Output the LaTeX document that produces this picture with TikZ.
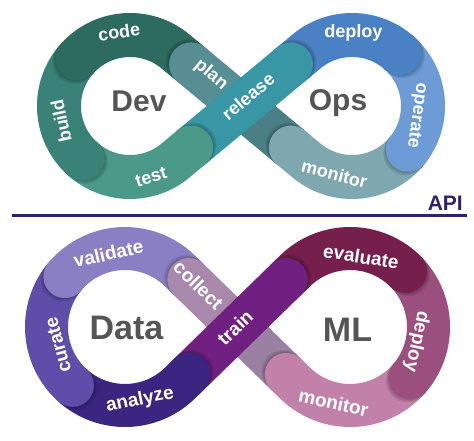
\documentclass[tikz,border=0pt]{standalone}
\usepackage{fontspec}
\setmainfont{Liberation Sans}
\usetikzlibrary{calc}

\definecolor{devplan}{HTML}{578E94}
\definecolor{devplanlow}{HTML}{4A7F86}
\definecolor{devcode}{HTML}{2D6A5F}
\definecolor{devbuild}{HTML}{3A8277}
\definecolor{devtest}{HTML}{4B9A89}
\definecolor{devrelease}{HTML}{3896A5}
\definecolor{opsdeploy}{HTML}{4A80C4}
\definecolor{opsoperate}{HTML}{6D9BD6}
\definecolor{opsmonitor}{HTML}{7FA7B0}
\definecolor{datacollect}{HTML}{A888AB}
\definecolor{datacollectlow}{HTML}{9A80A3}
\definecolor{datavalidate}{HTML}{8B7FC4}
\definecolor{datacurate}{HTML}{5E4EAA}
\definecolor{dataanalyze}{HTML}{3A2681}
\definecolor{mltrain}{HTML}{6F2080}
\definecolor{mlevaluate}{HTML}{751F4D}
\definecolor{mldeploy}{HTML}{9B4F7E}
\definecolor{mlmonitor}{HTML}{C181A8}
\definecolor{hubgrey}{HTML}{555555}
\definecolor{apiblue}{HTML}{2B2370}

% rounded end of a band with a soft shadow in front of it
\newcommand{\bandend}[4]{%
  \foreach \s in {1.5,3,4.5}{\fill[black,opacity=0.08] ($(#1)+(#2:\s)$) circle[radius=#4];}
  \fill[#3] (#1) circle[radius=#4];}

\begin{document}
\begin{tikzpicture}[x=1pt,y=1pt,
			band/.style={line width=44pt},
			mband/.style={line width=43pt},
			lbl/.style={text=white,inner sep=0,font=\bfseries\fontsize{18}{18}\selectfont},
			mlbl/.style={lbl,font=\bfseries\fontsize{19}{19}\selectfont},
			hub/.style={text=hubgrey,inner sep=0,font=\bfseries\fontsize{30}{30}\selectfont},
			mhub/.style={hub,font=\bfseries\fontsize{34}{34}\selectfont}
		]
		\useasboundingbox (0,0) rectangle (474,440);

		% DevOps loop
		\coordinate (DevC) at (130,334);
		\coordinate (OpsC) at (352,334);
		\coordinate (DevX) at (241,334);
		\coordinate (planS)    at ($(DevX)+(-39.8:65)$);
		\coordinate (planE)    at ($(DevX)+(140.2:65)$);
		\coordinate (codeE)    at ($(DevC)+(138:71)$);
		\coordinate (buildE)   at ($(DevC)+(228:71)$);
		\coordinate (testE)    at ($(DevX)+(219.8:65)$);
		\coordinate (releaseE) at ($(DevX)+(39.8:65)$);
		\coordinate (deployE)  at ($(OpsC)+(48:71)$);
		\coordinate (operateE) at ($(OpsC)+(-38:71)$);

		\draw[band,devplanlow] (planS) -- (DevX);
		\draw[band,devplan] (DevX) -- (planE);
		\draw[band,opsmonitor] (operateE) arc[start angle=-38,end angle=-129.8,radius=71] -- (planS);
		\bandend{planS}{140.2}{opsmonitor}{22}
		\draw[band,opsoperate] (deployE) arc[start angle=48,end angle=-38,radius=71];
		\bandend{operateE}{-128}{opsoperate}{22}
		\draw[band,opsdeploy] (releaseE) -- ($(OpsC)+(129.8:71)$) arc[start angle=129.8,end angle=48,radius=71];
		\bandend{deployE}{-42}{opsdeploy}{22}
		\draw[band,devrelease] (testE) -- (releaseE);
		\bandend{releaseE}{39.8}{devrelease}{22}
		\draw[band,devtest] (buildE) arc[start angle=228,end angle=309.8,radius=71] -- (testE);
		\bandend{testE}{39.8}{devtest}{22}
		\draw[band,devbuild] (codeE) arc[start angle=138,end angle=228,radius=71];
		\bandend{buildE}{318}{devbuild}{22}
		\draw[band,devcode] (planE) -- ($(DevC)+(50.2:71)$) arc[start angle=50.2,end angle=138,radius=71];
		\bandend{codeE}{228}{devcode}{22}
		\bandend{planE}{140.2}{devplan}{22}

		\node[lbl,rotate=8]     (code)    at (119,408)     {code};
		\node[lbl,rotate=-39.8] (plan)    at (211,365)     {plan};
		\node[lbl,rotate=102]   (build)   at (61,319)      {build};
		\node[lbl,rotate=16.5]  (test)    at (151,263)     {test};
		\node[lbl,rotate=39.8]  (release) at (248,343.5)   {release};
		\node[lbl,rotate=-1]    (deploy)  at (353.5,407)   {deploy};
		\node[lbl,rotate=-98]   (operate) at (416.5,324.5) {operate};
		\node[lbl,rotate=-14.4] (monitor) at (334.5,266)   {monitor};
		\node[hub] (dev) at (139,339) {Dev};
		\node[hub] (ops) at (338,337) {Ops};

		% API separator
		\coordinate (sepW) at (12,224.5);
		\coordinate (sepE) at (467,224.5);
		\draw[apiblue,line width=3.5pt] (sepW) -- (sepE);
		\node[text=apiblue,inner sep=0,anchor=base east,font=\bfseries\fontsize{21}{21}\selectfont] (api) at (463,230) {API};

		% DataML loop
		\coordinate (DataC) at (125,113);
		\coordinate (MLC)   at (350,113);
		\coordinate (DataX) at (237.5,113);
		\coordinate (collectS)  at ($(DataX)+(-44.25:68)$);
		\coordinate (collectE)  at ($(DataX)+(135.75:68)$);
		\coordinate (validateE) at ($(DataC)+(140:78.5)$);
		\coordinate (curateE)   at ($(DataC)+(228:78.5)$);
		\coordinate (analyzeE)  at ($(DataX)+(224.25:68)$);
		\coordinate (trainE)    at ($(DataX)+(44.25:68)$);
		\coordinate (evaluateE) at ($(MLC)+(45:78.5)$);
		\coordinate (mldeployE) at ($(MLC)+(-40:78.5)$);

		\draw[mband,datacollectlow] (collectS) -- (DataX);
		\draw[mband,datacollect] (DataX) -- (collectE);
		\draw[mband,mlmonitor] (mldeployE) arc[start angle=-40,end angle=-134.25,radius=78.5] -- (collectS);
		\bandend{collectS}{135.75}{mlmonitor}{21.5}
		\draw[mband,mldeploy] (evaluateE) arc[start angle=45,end angle=-40,radius=78.5];
		\bandend{mldeployE}{-130}{mldeploy}{21.5}
		\draw[mband,mlevaluate] (trainE) -- ($(MLC)+(134.25:78.5)$) arc[start angle=134.25,end angle=45,radius=78.5];
		\bandend{evaluateE}{-45}{mlevaluate}{21.5}
		\draw[mband,mltrain] (analyzeE) -- (trainE);
		\bandend{trainE}{44.25}{mltrain}{21.5}
		\draw[mband,dataanalyze] (curateE) arc[start angle=228,end angle=314.25,radius=78.5] -- (analyzeE);
		\bandend{analyzeE}{44.25}{dataanalyze}{21.5}
		\draw[mband,datacurate] (validateE) arc[start angle=140,end angle=228,radius=78.5];
		\bandend{curateE}{318}{datacurate}{21.5}
		\draw[mband,datavalidate] (collectE) -- ($(DataC)+(45.75:78.5)$) arc[start angle=45.75,end angle=140,radius=78.5];
		\bandend{validateE}{230}{datavalidate}{21.5}
		\bandend{collectE}{135.75}{datacollect}{21.5}

		\node[mlbl,rotate=12.7]   (validate) at (108.5,186.5) {validate};
		\node[mlbl,rotate=-44.25] (collect)  at (198.5,155)   {collect};
		\node[mlbl,rotate=105]    (curate)   at (58,95)       {curate};
		\node[mlbl,rotate=11.6]   (analyze)  at (140,40)      {analyze};
		\node[mlbl,rotate=44.25]  (train)    at (235,112.5)   {train};
		\node[mlbl,rotate=-9]     (evaluate) at (361,183.5)   {evaluate};
		\node[mlbl,rotate=-102.3] (mldeploy) at (416.5,98.5)  {deploy};
		\node[mlbl,rotate=-12.3]  (mlmonitor) at (333.5,37.5) {monitor};
		\node[mhub] (data) at (126.5,112.5) {Data};
		\node[mhub] (ml)   at (347.5,110)   {ML};
	\end{tikzpicture}
\end{document}
